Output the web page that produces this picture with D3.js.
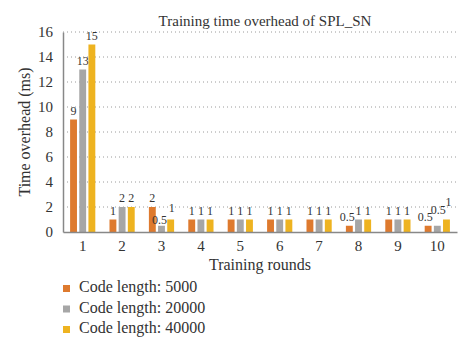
<!DOCTYPE html>
<html><head><meta charset="utf-8">
<script src="https://cdn.jsdelivr.net/npm/d3@7"></script>
<style>body{margin:0;background:#fff}svg{display:block}</style>
</head><body>
<svg id="c" width="474" height="358"></svg>
<script>
const rounds = ["1","2","3","4","5","6","7","8","9","10"];
const seriesNames = ["Code length: 5000","Code length: 20000","Code length: 40000"];
const s5000 = [9,1,2,1,1,1,1,0.5,1,0.5];
const s20000 = [13,2,0.5,1,1,1,1,1,1,0.5];
const s40000 = [15,2,1,1,1,1,1,1,1,1];
const yTicks = [0,2,4,6,8,10,12,14,16];
const colors = ["#DE7A2E","#A6A6A6","#EEB320"];
const series = [s5000,s20000,s40000];
const FONT = "Liberation Serif";
const nudge = {"0-9":[-3,0],"1-9":[1,-7],"2-9":[2,-9],"1-2":[-2,3],"2-2":[1,-3],"0-7":[-2,0]};

const svg = d3.select("#c").attr("font-family",FONT);
const m = {l:63, r:17, t:32, b:126};
const W = 474, H = 358;
const x = d3.scaleBand().domain(rounds).range([m.l, W-m.r]).paddingInner(0.36).paddingOuter(0.18);
const xs = d3.scaleBand().domain([0,1,2]).range([0, x.bandwidth()]).paddingInner(0.25);
const y = d3.scaleLinear().domain([0,16]).range([H-m.b, m.t]);

svg.append("g").selectAll("line").data(yTicks.filter(d=>d>0)).join("line")
  .attr("x1", m.l).attr("x2", W-m.r).attr("y1", d=>y(d)).attr("y2", d=>y(d))
  .attr("stroke","#9a9a9a").attr("stroke-width",1).attr("stroke-dasharray","1,3");

series.forEach((s,i)=>{
  const g = svg.append("g");
  g.selectAll("rect").data(s).join("rect")
    .attr("x",(d,j)=>x(rounds[j])+xs(i)).attr("width",xs.bandwidth())
    .attr("y",d=>y(d)).attr("height",d=>y(0)-y(d)).attr("fill",colors[i]);
  g.selectAll("text").data(s).join("text")
    .attr("x",(d,j)=>x(rounds[j])+xs(i)+xs.bandwidth()/2+((nudge[i+"-"+j]||[0,0])[0]))
    .attr("y",(d,j)=>y(d)-5+((nudge[i+"-"+j]||[0,0])[1]))
    .attr("text-anchor","middle").attr("font-size","12px").attr("fill","#333")
    .text(d=>d);
});

const ya = d3.axisLeft(y).tickValues(yTicks).tickSize(0).tickPadding(10);
const yg = svg.append("g").attr("transform",`translate(${m.l},0)`).call(ya).attr("font-family",FONT);
yg.select(".domain").attr("stroke","#888").attr("stroke-width",1.5);
yg.selectAll("text").attr("font-size","15px").attr("fill","#333");

const xa = d3.axisBottom(x).tickSize(0).tickPadding(8);
const xg = svg.append("g").attr("transform",`translate(0,${y(0)})`).call(xa).attr("font-family",FONT);
xg.select(".domain").attr("stroke","#888").attr("stroke-width",1.5);
xg.selectAll("text").attr("font-size","15px").attr("fill","#333");

svg.append("text").attr("x",265).attr("y",26).attr("text-anchor","middle").attr("fill","#333")
  .attr("font-size","15px").text("Training time overhead of SPL_SN");
svg.append("text").attr("x",260).attr("y",270).attr("text-anchor","middle").attr("fill","#333")
  .attr("font-size","16px").text("Training rounds");
svg.append("text").attr("transform",`translate(30,${(m.t+y(0))/2}) rotate(-90)`).attr("fill","#333")
  .attr("text-anchor","middle").attr("font-size","16px").text("Time overhead (ms)");

const lg = svg.append("g").selectAll("g").data(seriesNames).join("g")
  .attr("transform",(d,i)=>`translate(63,${292+i*20.5})`);
lg.append("rect").attr("x",0).attr("y",-7).attr("width",7).attr("height",7).attr("fill",(d,i)=>colors[i]);
lg.append("text").attr("x",16).attr("y",0).attr("font-size","16px").attr("fill","#333").text(d=>d);

svg.selectAll("text").style("font-family", FONT);
</script>
</body></html>
